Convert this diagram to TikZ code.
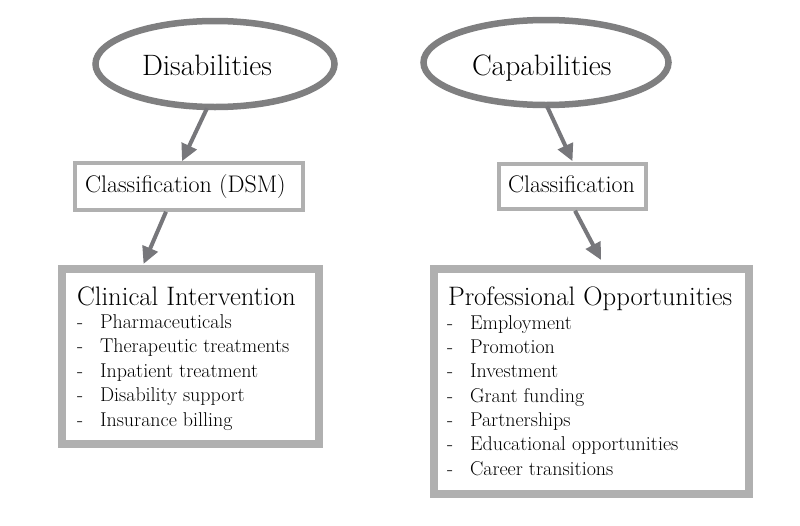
\documentclass[tikz,border=0pt]{standalone}
\usetikzlibrary{shapes.geometric,arrows.meta}
\definecolor{ellgray}{HTML}{7F7F80}
\definecolor{arrgray}{HTML}{77777B}
\definecolor{boxgray}{HTML}{B0B0B0}
\begin{document}
\begin{tikzpicture}[x=1pt,y=-1pt,
  oval/.style={draw=ellgray,line width=6.5pt,ellipse,inner sep=0pt},
  smallbox/.style={draw=boxgray,line width=3.5pt,inner sep=0pt},
  bigbox/.style={draw=boxgray,line width=8pt,inner sep=0pt},
  arr/.style={draw=arrgray,line width=4pt,-{Triangle[length=17pt,width=16pt]}},
  txt/.style={anchor=base west,inner sep=0pt,outer sep=0pt},
  head/.style={txt,font=\fontsize{29.5}{34}\selectfont},
  cls/.style={txt,font=\fontsize{24}{28}\selectfont},
  ttl/.style={txt,font=\fontsize{26.7}{31}\selectfont},
  itm/.style={txt,font=\fontsize{20}{24}\selectfont}]
\useasboundingbox (0,0) rectangle (800,525);
\fill[white] (0,0) rectangle (800,525);

% ellipses
\node[oval,minimum width=239pt,minimum height=86pt] (dis) at (215,64) {};
\node[head] (distxt) at (142,75) {Disabilities};
\node[oval,minimum width=245pt,minimum height=85pt] (cap) at (546,62.5) {};
\node[head] (captxt) at (472,75) {Capabilities};

% classification boxes
\node[smallbox,minimum width=228pt,minimum height=47pt] (cls1) at (189,186.5) {};
\node[cls] (cls1txt) at (85,192) {Classification (DSM)};
\node[smallbox,minimum width=147pt,minimum height=45pt] (cls2) at (572.5,186.5) {};
\node[cls] (cls2txt) at (508,192) {Classification};

% big boxes
\node[bigbox,minimum width=257pt,minimum height=175pt] (clin) at (190.5,356.5) {};
\node[ttl] (clinttl) at (77,305) {Clinical Intervention};
\node[itm] (c1) at (77,328) {\makebox[23pt][l]{-}Pharmaceuticals};
\node[itm] (c2) at (77,352.5) {\makebox[23pt][l]{-}Therapeutic treatments};
\node[itm] (c3) at (77,377) {\makebox[23pt][l]{-}Inpatient treatment};
\node[itm] (c4) at (77,401.5) {\makebox[23pt][l]{-}Disability support};
\node[itm] (c5) at (77,426) {\makebox[23pt][l]{-}Insurance billing};

\node[bigbox,minimum width=315pt,minimum height=225pt] (prof) at (591.5,381.5) {};
\node[ttl] (profttl) at (448,305) {Professional Opportunities};
\node[itm] (p1) at (447,329) {\makebox[23pt][l]{-}Employment};
\node[itm] (p2) at (447,353) {\makebox[23pt][l]{-}Promotion};
\node[itm] (p3) at (447,377.5) {\makebox[23pt][l]{-}Investment};
\node[itm] (p4) at (447,402) {\makebox[23pt][l]{-}Grant funding};
\node[itm] (p5) at (447,426) {\makebox[23pt][l]{-}Partnerships};
\node[itm] (p6) at (447,450.5) {\makebox[23pt][l]{-}Educational opportunities};
\node[itm] (p7) at (447,475) {\makebox[23pt][l]{-}Career transitions};

% arrows
\draw[arr] ([xshift=-8pt,yshift=2pt]dis.south) -- ([xshift=-7pt]cls1.north);
\draw[arr] ([xshift=-23pt]cls1.south) -- ([xshift=-47pt,yshift=1pt]clin.north);
\draw[arr] ([xshift=1pt,yshift=2pt]cap.south) -- ([xshift=0pt,yshift=1pt]cls2.north);
\draw[arr] ([xshift=2.5pt]cls2.south) -- ([xshift=9.5pt,yshift=5pt]prof.north);
\end{tikzpicture}
\end{document}
